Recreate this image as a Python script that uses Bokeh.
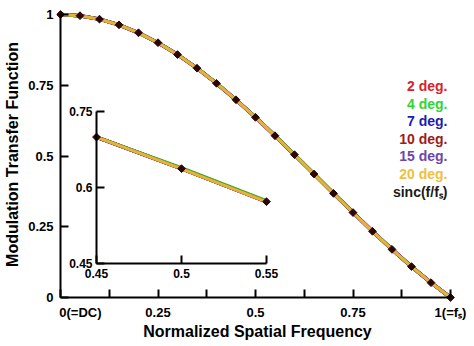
from bokeh.plotting import figure
from bokeh.models import Range1d, LinearAxis, FixedTicker
from bokeh.embed import file_html
from bokeh.resources import INLINE
from bokeh.core.properties import value

# ---------------- data ----------------
freq = [0.00, 0.05, 0.10, 0.15, 0.20, 0.25, 0.30, 0.35, 0.40, 0.45, 0.50,
        0.55, 0.60, 0.65, 0.70, 0.75, 0.80, 0.85, 0.90, 0.95, 1.00]
sinc_ff = [1.0000, 0.9959, 0.9836, 0.9634, 0.9355, 0.9003, 0.8584, 0.8103, 0.7568, 0.6987, 0.6366,
           0.5716, 0.5046, 0.4363, 0.3679, 0.3001, 0.2339, 0.1700, 0.1093, 0.0524, 0.0000]
mtf_2deg = [1.0000, 0.9959, 0.9835, 0.9633, 0.9354, 0.9002, 0.8583, 0.8102, 0.7567, 0.6986, 0.6365,
            0.5715, 0.5045, 0.4362, 0.3678, 0.3000, 0.2338, 0.1699, 0.1092, 0.0524, 0.0000]
mtf_4deg = [1.0000, 0.9960, 0.9837, 0.9636, 0.9358, 0.9006, 0.8588, 0.8108, 0.7574, 0.6989, 0.6386,
            0.5736, 0.5058, 0.4370, 0.3683, 0.3004, 0.2340, 0.1701, 0.1093, 0.0524, 0.0000]
mtf_7deg = [1.0000, 0.9959, 0.9836, 0.9634, 0.9355, 0.9003, 0.8584, 0.8103, 0.7568, 0.6987, 0.6367,
            0.5717, 0.5047, 0.4364, 0.3680, 0.3002, 0.2339, 0.1700, 0.1093, 0.0524, 0.0000]
mtf_10deg = [1.0000, 0.9959, 0.9836, 0.9634, 0.9355, 0.9003, 0.8584, 0.8103, 0.7568, 0.6987, 0.6366,
             0.5716, 0.5046, 0.4363, 0.3679, 0.3001, 0.2339, 0.1700, 0.1093, 0.0524, 0.0000]
mtf_15deg = [1.0000, 0.9958, 0.9835, 0.9633, 0.9354, 0.9002, 0.8583, 0.8102, 0.7567, 0.6986, 0.6365,
             0.5715, 0.5045, 0.4362, 0.3678, 0.3000, 0.2338, 0.1699, 0.1092, 0.0523, 0.0000]
mtf_20deg = [1.0000, 0.9958, 0.9834, 0.9632, 0.9353, 0.9001, 0.8582, 0.8101, 0.7566, 0.6985, 0.6363,
             0.5713, 0.5044, 0.4361, 0.3677, 0.2999, 0.2337, 0.1698, 0.1091, 0.0523, 0.0000]

series_names = ["2 deg.", "4 deg.", "7 deg.", "10 deg.", "15 deg.", "20 deg.", "sinc(f/f\u209b)"]
series_colors = ["#d42429", "#33d433", "#1c1cb0", "#a01a1a", "#6e46a8", "#f0c040", "#1a1a1a"]
line_colors = ["#d42429", "#4aa82a", "#1c1cb0", "#a01a1a", "#6e46a8", "#e8b238"]

x_ticks = [0, 0.25, 0.5, 0.75, 1]
x_minor_ticks = [0.125, 0.375, 0.625, 0.875]
x_tick_labels = ["\u00a0" * 11 + "0(=DC)", "0.25", "0.5", "0.75", "1(=f\u209b)"]
y_ticks = [0, 0.25, 0.5, 0.75, 1]
y_tick_labels = ["0", "0.25", "0.5", "0.75", "1"]

inset_x_ticks = [0.45, 0.5, 0.55]
inset_x_labels = ["0.45", "0.5", "0.55"]
inset_y_ticks = [0.45, 0.6, 0.75]
inset_y_labels = ["0.45", "0.6", "0.75"]
inset_idx = [9, 10, 11]   # points of freq shown in the inset (0.45 .. 0.55)

# ---------------- layout (pixels) ----------------
W, H = 474, 346
FL, FR, FT, FB = 56, 458, 6, 302          # frame edges
X0_PX, X1_PX, Y0_PX, Y1_PX = 60, 450, 297, 14   # main axes positions of 0 and 1
IX0, IX1, IY0, IY1 = 96, 266, 263, 110.5        # inset axes pixel positions
sx = (X1_PX - X0_PX)
sy = (Y0_PX - Y1_PX)
isx = (IX1 - IX0) / 0.1
isy = (IY0 - IY1) / 0.3

FONT = "Liberation Sans"

p = figure(width=W, height=H, output_backend="svg", toolbar_location=None,
           x_range=Range1d(-(X0_PX - FL) / sx, 1 + (FR - X1_PX) / sx),
           y_range=Range1d(-(FB - Y0_PX) / sy, 1 + (Y1_PX - FT) / sy),
           min_border_left=FL, min_border_right=W - FR, min_border_top=FT,
           min_border_bottom=H - FB, x_axis_type=None, y_axis_type=None)
p.outline_line_color = None
p.xgrid.visible = False
p.ygrid.visible = False
p.background_fill_color = "white"
p.border_fill_color = "white"

p.extra_x_ranges = {"ix": Range1d(0.45 - (IX0 - FL) / isx, 0.55 + (FR - IX1) / isx)}
p.extra_y_ranges = {"iy": Range1d(0.45 - (FB - IY0) / isy, 0.75 + (IY1 - FT) / isy)}


def line_axis(ax, tick_in, tick_out):
    """Axis line + tick marks (as minor ticks, so no label texts)."""
    ax.axis_line_width = 2
    ax.axis_line_color = "black"
    ax.major_tick_line_color = None
    ax.minor_tick_line_width = 2
    ax.minor_tick_line_color = "black"
    ax.minor_tick_in = tick_in
    ax.minor_tick_out = tick_out
    ax.major_tick_in = 0
    ax.major_tick_out = 0
    ax.major_label_standoff = 0


def label_axis(ax):
    """Labels only axis at the frame edge."""
    ax.axis_line_color = None
    ax.major_tick_line_color = None
    ax.minor_tick_line_color = None
    ax.major_tick_in = 0
    ax.major_tick_out = 0
    ax.minor_tick_in = 0
    ax.minor_tick_out = 0
    ax.major_label_text_font = FONT
    ax.major_label_text_font_style = "bold"
    ax.major_label_text_color = "black"
    ax.major_label_text_font_size = "13px"
    ax.axis_label_text_font = FONT
    ax.axis_label_text_font_style = "bold"
    ax.axis_label_text_color = "black"
    ax.axis_label_text_font_size = "16px"


# ---- main x axis: line+ticks at y=0, labels at frame bottom
xline = LinearAxis(fixed_location=0, bounds=(0, 1),
                   ticker=FixedTicker(ticks=[], minor_ticks=x_ticks + x_minor_ticks))
line_axis(xline, 8, 0)
p.add_layout(xline, "below")

xlab = LinearAxis(ticker=FixedTicker(ticks=x_ticks),
                  major_label_overrides=dict(zip(x_ticks, x_tick_labels)),
                  axis_label="Normalized Spatial Frequency")
label_axis(xlab)
xlab.major_label_standoff = (FB - Y0_PX) * 0 + 2
xlab.axis_label_standoff = 0
p.add_layout(xlab, "below")

# ---- main y axis
yline = LinearAxis(fixed_location=0, bounds=(0, 1),
                   ticker=FixedTicker(ticks=[], minor_ticks=y_ticks))
line_axis(yline, 8, 0)
p.add_layout(yline, "left")

ylab = LinearAxis(ticker=FixedTicker(ticks=y_ticks),
                  major_label_overrides=dict(zip(y_ticks, y_tick_labels)),
                  axis_label="Modulation Transfer Function")
label_axis(ylab)
ylab.major_label_standoff = 3
ylab.axis_label_standoff = 4
p.add_layout(ylab, "left")

# ---- inset axes (ticks point into the inset)
iyline = LinearAxis(x_range_name="ix", y_range_name="iy", fixed_location=0.45,
                    bounds=(0.45, 0.75), ticker=FixedTicker(ticks=[], minor_ticks=inset_y_ticks))
line_axis(iyline, 0, 8)
p.add_layout(iyline, "right")

ixline = LinearAxis(x_range_name="ix", y_range_name="iy", fixed_location=0.45,
                    bounds=(0.45, 0.55), ticker=FixedTicker(ticks=[], minor_ticks=inset_x_ticks))
line_axis(ixline, 8, 0)
p.add_layout(ixline, "below")

# inset tick labels
p.text(x=[0.45] * len(inset_y_ticks), y=inset_y_ticks, text=inset_y_labels,
       x_range_name="ix", y_range_name="iy", x_offset=-4,
       text_align="right", text_baseline="middle",
       text_font=value(FONT), text_font_style="bold", text_font_size="12px", text_color="black")
p.text(x=inset_x_ticks, y=[0.45] * len(inset_x_ticks), text=inset_x_labels,
       x_range_name="ix", y_range_name="iy", y_offset=5,
       text_align="center", text_baseline="top",
       text_font=value(FONT), text_font_style="bold", text_font_size="12px", text_color="black")

# ---- curves: gold (20 deg) on top, green peeks out above it
series = [mtf_2deg, mtf_7deg, mtf_10deg, mtf_15deg, mtf_4deg, mtf_20deg]
colors = [line_colors[0], line_colors[2], line_colors[3], line_colors[4], line_colors[1], line_colors[5]]
widths = [3.5, 3.5, 3.5, 3.5, 3, 3]
for ys, c, w in zip(series, colors, widths):
    p.line(freq, ys, line_color=c, line_width=w, line_join="round")
p.scatter(freq, sinc_ff, marker="square", angle=0.7854, size=5.5,
          fill_color="#2a0606", line_color="#2a0606")

# inset curves
ifreq = [freq[i] for i in inset_idx]
for ys, c, w in zip(series, colors, widths):
    p.line(ifreq, [ys[i] for i in inset_idx], line_color=c, line_width=w,
           x_range_name="ix", y_range_name="iy", line_join="round")
p.scatter(ifreq, [sinc_ff[i] for i in inset_idx], marker="square", angle=0.7854, size=5.5,
          fill_color="#2a0606", line_color="#2a0606", x_range_name="ix", y_range_name="iy")

# ---- coloured text legend
LEG_X_PX, LEG_Y_PX, LEG_STEP_PX = 447, 85.5, 17.6
leg_x = [(LEG_X_PX - X0_PX) / sx] * len(series_names)
leg_y = [(Y0_PX - (LEG_Y_PX + i * LEG_STEP_PX)) / sy for i in range(len(series_names))]
p.text(x=leg_x, y=leg_y, text=series_names, text_color=series_colors,
       text_align="right", text_baseline="middle",
       text_font=value(FONT), text_font_style="bold", text_font_size="14px")

open("out.html", "w").write(file_html(p, INLINE))
